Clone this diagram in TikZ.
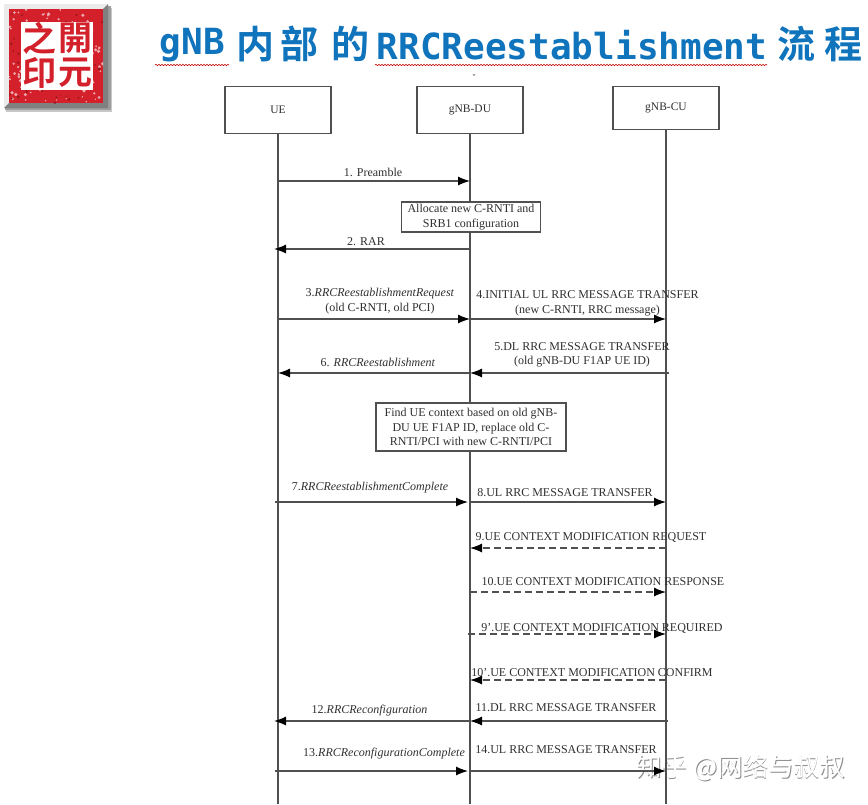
\documentclass[tikz,border=0pt]{standalone}
\usepackage{fontspec}
\setmainfont{Liberation Serif}
\newfontfamily\cjkb[BoldFont={Noto Sans CJK SC Bold}]{Noto Sans CJK SC}
\newfontfamily\cjktc[BoldFont={Noto Sans CJK TC Bold}]{Noto Sans CJK TC}
\newfontfamily\titlelat{DejaVu Sans Mono}
\usetikzlibrary{arrows.meta,decorations.pathmorphing}
\definecolor{ln}{HTML}{505050}
\definecolor{txt}{HTML}{303030}
\definecolor{ttl}{HTML}{0F74BC}
\definecolor{logored}{HTML}{D3202A}
\tikzset{
  x=1pt,y=-1pt,
  actor/.style={draw=ln,line width=1.2pt,fill=white,minimum width=106pt,text=txt,font=\fontsize{11.5}{13}\selectfont,anchor=north,inner sep=0pt},
  note/.style={draw=ln,line width=1.2pt,fill=white,align=center,text=txt,font=\fontsize{12}{14.4}\selectfont,inner sep=0pt},
  life/.style={draw=ln,line width=1.2pt},
  msg/.style={draw=ln,line width=1.2pt,-{Latex[length=12pt,width=9pt,black]}},
  dmsg/.style={msg,dash pattern=on 7pt off 4pt},
  lab/.style={text=txt,font=\fontsize{12}{14.5}\selectfont,align=center,inner sep=0pt},
  logoch/.style={text=logored,inner sep=0pt,font=\cjktc\bfseries\fontsize{34}{34}\selectfont},
  ttlch/.style={text=ttl,inner sep=0pt,font=\cjkb\bfseries\fontsize{38}{38}\selectfont},
  ttllat/.style={text=ttl,inner sep=0pt,font=\titlelat\bfseries\fontsize{36}{36}\selectfont},
  squig/.style={draw=red!75!black,line width=.6pt,decorate,decoration={snake,amplitude=.7pt,segment length=3pt}},
  wmark/.style={inner sep=0pt,font=\cjkb\fontsize{25.5}{25.5}\selectfont},
}
\begin{document}
\begin{tikzpicture}
\useasboundingbox (0,0) rectangle (868,804);
\fill[white] (0,0) rectangle (868,804);
% logo
\fill[black!22] (6,8) rectangle (112,112);
\fill[black!38] (5,6) rectangle (111,110);
\fill[black!18] (4,4) rectangle (108,108);
\fill[black!8] (4,4) -- (108,4) -- (103,9) -- (9,9) -- (9,103) -- (4,108) -- cycle;
\fill[black!50] (108,4) -- (108,108) -- (4,108) -- (9,103) -- (103,103) -- (103,9) -- cycle;
\fill[logored] (9,9) rectangle (103,103);
\begin{scope}
\clip (9,9) rectangle (103,103);
\pgfmathsetseed{7}
\foreach \i in {1,...,110}{
  \fill[white!60!logored] ({9+94*rnd},{9+94*rnd}) circle ({0.6+1.4*rnd});
}
\foreach \i in {1,...,60}{
  \fill[logored!70!black] ({9+94*rnd},{9+94*rnd}) circle ({0.5+1*rnd});
}
\end{scope}
\fill[white] (21,22) rectangle (93,90);
\node[logoch] (l1) at (40,38) {之};
\node[logoch] (l2) at (75,38) {開};
\node[logoch] (l3) at (39,73) {印};
\node[logoch] (l4) at (75,73) {元};
% title
\node[ttllat] (t1) at (192.5,45) {gNB};
\node[ttlch] (t2) at (255,44) {内};
\node[ttlch] (t3) at (299,44) {部};
\node[ttlch] (t4) at (350,44) {的};
\node[ttllat] (t5) at (572,45) {RRCReestablishment};
\node[ttlch] (t6) at (796,44) {流};
\node[ttlch] (t7) at (843,44) {程};
\draw[squig] (155,65) -- (229,65);
\draw[squig] (375,65) -- (767,65);
\node[text=txt,inner sep=0pt,font=\bfseries\fontsize{9}{9}\selectfont] (dash) at (474,76) {-};
% watermark
\node[wmark,text=black!45] (wmb) at (741.6,768.6) {知乎 @网络与叔叔};
\node[wmark,text=white] (wm) at (741,768) {知乎 @网络与叔叔};
% lifelines
\node[actor,minimum height=47pt] (ue) at (278,86) {UE};
\node[actor,minimum height=47pt] (du) at (470,86) {gNB-DU};
\node[actor,minimum height=43pt] (cu) at (666,86) {gNB-CU};
\coordinate (bot) at (0,804);
\draw[life] (ue.south) -- (ue.south |- bot);
\draw[life] (du.south) -- (du.south |- bot);
\draw[life] (cu.south) -- (cu.south |- bot);
% notes
\node[note,minimum width=139pt,minimum height=30pt] (n1) at (471,217) {Allocate new C-RNTI and\\SRB1 configuration};
\node[note,minimum width=190pt,minimum height=48pt] (n2) at (471,427) {Find UE context based on old gNB-\\DU UE F1AP ID, replace old C-\\RNTI/PCI with new C-RNTI/PCI};
% messages
\foreach \n/\y in {1/181,2/249,3/319,5/373,7/502,9/548,10/592,91/634,101/680,11/721,13/771}
  \coordinate (y\n) at (0,\y);
\draw[msg] (ue |- y1) -- (du |- y1);
\draw[msg] (du |- y2) -- ([xshift=-4pt]ue |- y2);
\draw[msg] (ue |- y3) -- (du |- y3);
\draw[msg] (du |- y3) -- (cu |- y3);
\draw[msg] ([xshift=3pt]cu |- y5) -- (du |- y5);
\draw[msg] (du |- y5) -- (ue |- y5);
\draw[msg] ([xshift=-3pt]ue |- y7) -- ([xshift=-2pt]du |- y7);
\draw[msg] (du |- y7) -- (cu |- y7);
\draw[dmsg] (cu |- y9) -- (du |- y9);
\draw[dmsg] (du |- y10) -- (cu |- y10);
\draw[dmsg] ([xshift=-2pt]du |- y91) -- (cu |- y91);
\draw[dmsg] (cu |- y101) -- (du |- y101);
\draw[msg] ([xshift=2pt]cu |- y11) -- (du |- y11);
\draw[msg] (du |- y11) -- ([xshift=-4pt]ue |- y11);
\draw[msg] ([xshift=-3pt]ue |- y13) -- ([xshift=-2pt]du |- y13);
\draw[msg] (du |- y13) -- (cu |- y13);
% labels
\node[lab] (m1) at (373,172) {1. Preamble};
\node[lab] (m2) at (366,241.5) {2. RAR};
\node[lab] (m3) at (380,301) {3.\textit{RRCReestablishmentRequest}\\(old C-RNTI, old PCI)};
\node[lab] (m4) at (587.5,303.5) {4.INITIAL UL RRC MESSAGE TRANSFER\\(new C-RNTI, RRC message)};
\node[lab] (m5) at (582,355) {5.DL RRC MESSAGE TRANSFER\\(old gNB-DU F1AP UE ID)};
\node[lab] (m6) at (378,362.5) {6. \textit{RRCReestablishment}};
\node[lab] (m7) at (370,487.5) {7.\textit{RRCReestablishmentComplete}};
\node[lab] (m8) at (565,492.5) {8.UL RRC MESSAGE TRANSFER};
\node[lab] (m9) at (591,537) {9.UE CONTEXT MODIFICATION REQUEST};
\node[lab] (m10) at (603,582) {10.UE CONTEXT MODIFICATION RESPONSE};
\node[lab] (m91) at (602,628) {9'.UE CONTEXT MODIFICATION REQUIRED};
\node[lab] (m101) at (592,673) {10'.UE CONTEXT MODIFICATION CONFIRM};
\node[lab] (m11) at (566,708) {11.DL RRC MESSAGE TRANSFER};
\node[lab] (m12) at (369.5,711) {12.\textit{RRCReconfiguration}};
\node[lab] (m13) at (384,754) {13.\textit{RRCReconfigurationComplete}};
\node[lab] (m14) at (566,750) {14.UL RRC MESSAGE TRANSFER};
\end{tikzpicture}
\end{document}
